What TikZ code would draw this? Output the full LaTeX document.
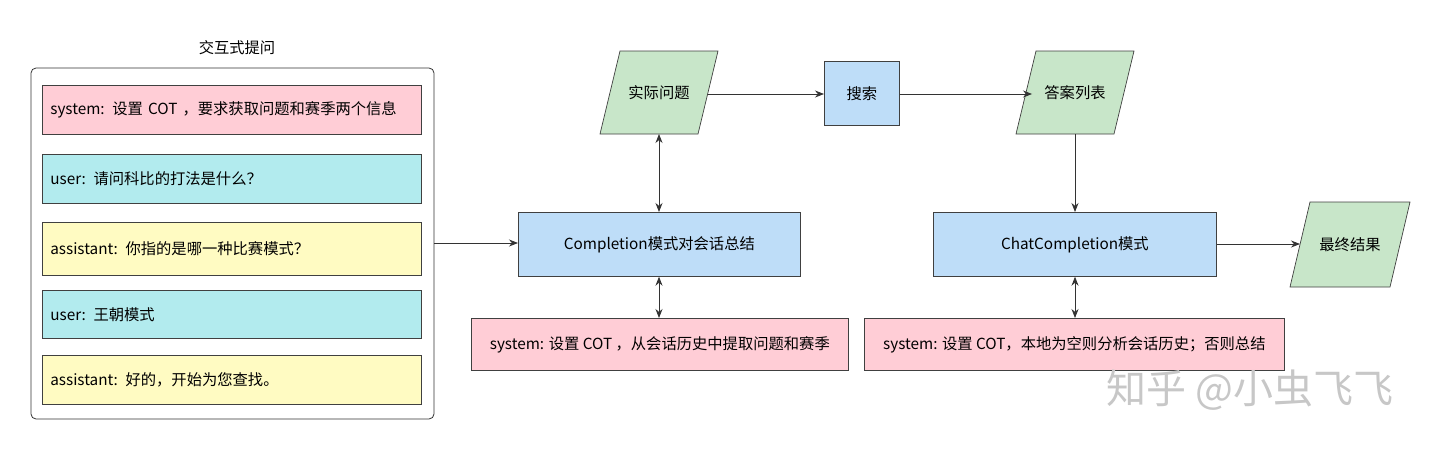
\documentclass[tikz,border=0pt]{standalone}
\usepackage{fontspec}
\setmainfont{Noto Sans CJK SC}
\usetikzlibrary{arrows.meta}
\definecolor{cpink}{HTML}{FFCDD6}
\definecolor{ccyan}{HTML}{B2EBEE}
\definecolor{cyel}{HTML}{FFFBC2}
\definecolor{cblue}{HTML}{BEDDF8}
\definecolor{cgreen}{HTML}{C8E6C9}
\newcommand{\fs}{\fontsize{15.3}{18}\selectfont}
\begin{document}
\begin{tikzpicture}[x=1pt,y=-1pt,
  box/.style={draw=black!75,line width=0.7pt,anchor=north west,inner sep=0,font=\fs},
  pl/.style={fill=cgreen,draw=black!75,line width=0.7pt},
  arr/.style={-{Stealth[length=9pt,width=7pt]},line width=0.8pt,black!80},
  darr/.style={{Stealth[length=9pt,width=7pt]}-{Stealth[length=9pt,width=7pt]},line width=0.8pt,black!80}]
\useasboundingbox (0,0) rectangle (1440,450);
\node[font=\fs] (title) at (237,48) {交互式提问};
\draw[rounded corners=5pt,line width=0.8pt,black!80] (31,68) rectangle (434,419);
\coordinate (outer) at (434,243);
\foreach \n/\y/\h/\c/\t in {b1/85/49/cpink/{system: 设置 COT ，要求获取问题和赛季两个信息},b2/154/49/ccyan/{user: 请问科比的打法是什么？},b3/222/53/cyel/{assistant: 你指的是哪一种比赛模式？},b4/290/48/ccyan/{user: 王朝模式},b5/355/49/cyel/{assistant: 好的，开始为您查找。}}{
  \node[box,fill=\c,minimum width=379pt,minimum height=\h pt,text width=363pt,align=left,inner xsep=8pt] (\n) at (42,\y) {\t};
}
\node[box,fill=cblue,minimum width=282pt,minimum height=64pt] (comp) at (518,212) {};
\node[font=\fs] at (comp.center) {Completion模式对会话总结};
\node[box,fill=cpink,minimum width=377pt,minimum height=52pt] (p1) at (471,318) {};
\node[font=\fs] at (p1.center) {system: 设置 COT ，从会话历史中提取问题和赛季};
\draw[pl] (620,51) -- (718,51) -- (698,134) -- (600,134) -- cycle;
\node[font=\fs] (q) at (659,93) {实际问题};
\coordinate (qs) at (659,134); \coordinate (qe) at (708,94);
\node[box,fill=cblue,minimum width=75pt,minimum height=64pt] (s) at (824,61) {};
\node[font=\fs] at (s.center) {搜索};
\draw[pl] (1036,51) -- (1134,51) -- (1114,134) -- (1016,134) -- cycle;
\node[font=\fs] (a) at (1075,93) {答案列表};
\coordinate (as) at (1075,134); \coordinate (aw) at (1032,94);
\node[box,fill=cblue,minimum width=283pt,minimum height=64pt] (cc) at (933,212) {};
\node[font=\fs] at (cc.center) {ChatCompletion模式};
\node[box,fill=cpink,minimum width=420pt,minimum height=52pt] (p2) at (864,318) {};
\node[font=\fs] at (p2.center) {system: 设置 COT，本地为空则分析会话历史；否则总结};
\draw[pl] (1310,202) -- (1410,202) -- (1390,287) -- (1290,287) -- cycle;
\node[font=\fs] (f) at (1350,245) {最终结果};
\coordinate (fw) at (1300,244);
\node[text=black!22,font=\fontsize{40}{44}\selectfont] (wm) at (1250,390) {知乎 @小虫飞飞};
\draw[arr] (outer) -- (outer -| comp.west);
\draw[darr] (qs) -- (qs |- comp.north);
\draw[darr] (qs |- comp.south) -- (qs |- p1.north);
\draw[arr] (qe) -- (qe -| s.west);
\draw[arr] (qe -| s.east) -- (aw);
\draw[arr] (as) -- (as |- cc.north);
\draw[darr] (as |- cc.south) -- (as |- p2.north);
\draw[arr] (fw -| cc.east) -- (fw);
\end{tikzpicture}
\end{document}
